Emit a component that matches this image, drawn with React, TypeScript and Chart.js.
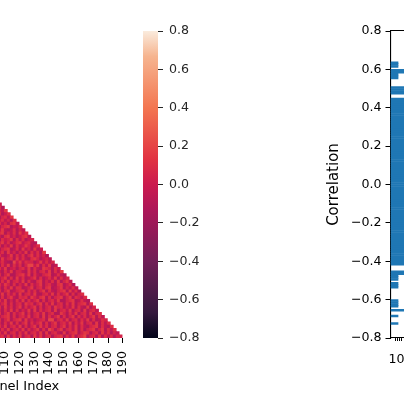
import React, { useEffect, useRef } from "react";
import { Chart, registerables } from "chart.js";

Chart.register(...registerables);

const FONT = "'DejaVu Sans'";
const AXIS_FONT_SIZE = 12.6;

// Heatmap: one string per 2-channel row band, one digit per 2-channel column band.
// Each digit is a correlation level: 0 = -0.2, 4 = 0.0, 9 = +0.25.
const heatRows = [
  "4",
  "62",
  "537",
  "6246",
  "25637",
  "463526",
  "6352673",
  "25672436",
  "473236253",
  "6725362746",
  "42673524673",
  "264572636245",
  "5736246735632",
  "62537263475246",
  "256723627352734",
  "4627352537263627",
  "63247263625736352",
  "273562736326752453",
  "4632184736552473635",
  "26372636258847263723",
  "637245256372632765264",
  "4263725532736256372637",
  "62572256737263256723632",
  "357262736235726246372635",
  "2637256372632672536272573",
  "63752625372635725632672462",
  "526372662357256267235725363",
  "6257235672636257263256727362",
  "37263627256372256372635726256",
  "262573265627536726256725726536",
  "6372526372635726256372256723632",
  "35726256275625726372562637256726",
  "627362572635726256275625372632725",
  "5263726253727263562725637256272563",
  "62572635726256372562275263725627256",
  "356726256372562726357262572636257263",
  "6257256727352456288256372562637262365",
  "52637262572635726257256372637256272636",
  "637256372625727362562572637263256726326",
  "2637256372635726286257256372625672572636",
  "63725626372563727256327256725762562736253",
  "562726372562737256256726372568256272636255",
];
const rowStart = 107;
const rowStep = 2;
const colStart = 106.5;
const colStep = 2;
const heatTicks = [50, 60, 70, 80, 90, 100, 110, 120, 130, 140, 150, 160, 170, 180, 190];

// Colour bar
const barTicks = [-0.8, -0.6, -0.4, -0.2, 0, 0.2, 0.4, 0.6, 0.8];
const rocketPositions = [0, 0.083, 0.25, 0.417, 0.5, 0.583, 0.75, 0.917, 1];
const rocketColors = ["#03051a", "#35193e", "#701f57", "#ad1759", "#cb1b4f", "#e13342", "#f37651", "#f6b48f", "#faebdd"];

// Correlation histogram (bins that hold something, clipped by the page's right edge)
const binValues = [
  0.635, 0.625, 0.615, 0.595, 0.585, 0.575, 0.565, 0.555, 0.505, 0.495, 0.485, 0.475,
  0.445, 0.435, 0.425, 0.415, 0.405, 0.395, 0.385, 0.375, 0.365, 0.355, 0.345, 0.335, 0.325, 0.315, 0.305,
  0.295, 0.285, 0.275, 0.265, 0.255, 0.245, 0.235, 0.225, 0.215, 0.205, 0.195, 0.185, 0.175, 0.165, 0.155,
  0.145, 0.135, 0.125, 0.115, 0.105, 0.095, 0.085, 0.075, 0.065, 0.055, 0.045, 0.035, 0.025, 0.015, 0.005,
  -0.005, -0.015, -0.025, -0.035, -0.045, -0.055, -0.065, -0.075, -0.085, -0.095, -0.105, -0.115, -0.125,
  -0.135, -0.145, -0.155, -0.165, -0.175, -0.185, -0.195, -0.205, -0.215, -0.225, -0.235, -0.245, -0.255,
  -0.265, -0.275, -0.285, -0.295, -0.305, -0.315, -0.325, -0.335, -0.345, -0.355, -0.365, -0.375, -0.385,
  -0.395, -0.405, -0.415, -0.455, -0.465, -0.475, -0.485, -0.495, -0.515, -0.525, -0.535,
  -0.605, -0.615, -0.625, -0.635, -0.655, -0.685, -0.725,
];
const binHeights = [
  0.84, 0.84, 0.84, 2, 2, 0.84, 0.84, 0.84, 2, 2, 2, 2,
  3, 3, 4, 4, 5, 6, 8, 9, 11, 13, 15, 18, 21, 24, 28,
  33, 38, 44, 50, 57, 64, 72, 80, 90, 100, 110, 120, 130, 142, 154,
  165, 176, 186, 196, 205, 214, 222, 229, 236, 241, 246, 249, 252, 254, 255,
  254, 252, 249, 245, 240, 234, 227, 220, 212, 203, 193, 183, 172, 161,
  150, 139, 128, 117, 106, 96, 86, 77, 68, 60, 53, 46, 40,
  34, 29, 25, 21, 18, 15, 12, 10, 8, 7, 6, 5,
  4, 3, 3, 2, 2, 0.84, 0.84, 0.84, 0.84, 0.84, 0.84,
  0.84, 0.84, 0.84, 0.84, 2, 0.84, 0.84,
];
const corrTicks = [-0.8, -0.6, -0.4, -0.2, 0, 0.2, 0.4, 0.6, 0.8];
const heightTicks = [0.7, 0.8, 0.9, 1, 2, 3, 4, 5, 6, 7, 8, 9, 10];

function hexToRgb(h: string) {
  return [1, 3, 5].map((i) => parseInt(h.slice(i, i + 2), 16));
}

function rocket(value: number) {
  const t = Math.max(0, Math.min(1, (value + 0.8) / 1.6));
  let i = 0;
  while (i < rocketPositions.length - 2 && t > rocketPositions[i + 1]) i++;
  const f = (t - rocketPositions[i]) / (rocketPositions[i + 1] - rocketPositions[i]);
  const a = hexToRgb(rocketColors[i]);
  const b = hexToRgb(rocketColors[i + 1]);
  const c = a.map((v, k) => Math.round(v + (b[k] - v) * f));
  return `rgb(${c[0]},${c[1]},${c[2]})`;
}

const signed = (v: number) => {
  const s = Math.abs(v).toFixed(1);
  return v < -1e-9 ? "\u2212" + s : s;
};

function useChart(build: (c: HTMLCanvasElement) => Chart) {
  const ref = useRef<HTMLCanvasElement | null>(null);
  useEffect(() => {
    const chart = build(ref.current as HTMLCanvasElement);
    return () => chart.destroy();
  }, []);
  return ref;
}

function buildHeatmap(canvas: HTMLCanvasElement) {
  const points: any[] = [];
  const colors: string[] = [];
  heatRows.forEach((row, i) => {
    const r = rowStart + i * rowStep;
    [...row].forEach((d, j) => {
      points.push({ x: colStart + j * colStep, y: [r, r + rowStep] });
      colors.push(rocket(-0.2 + Number(d) * 0.05));
    });
  });
  return new Chart(canvas, {
    type: "bar",
    data: {
      datasets: [
        { data: points, backgroundColor: colors, barThickness: 3, borderWidth: 0, inflateAmount: 0.4 } as any,
      ],
    },
    options: {
      responsive: false,
      animation: false,
      events: [],
      layout: { padding: { left: 11.5, right: 11.5, top: 31, bottom: 10 } },
      plugins: { legend: { display: false }, tooltip: { enabled: false } },
      scales: {
        x: {
          type: "linear",
          min: 39.6,
          max: 190.5,
          offset: false,
          afterBuildTicks: (s: any) => {
            s.ticks = heatTicks.map((value) => ({ value }));
          },
          afterFit: (s: any) => {
            s.height = 56;
            s.paddingLeft = 0;
            s.paddingRight = 0;
          },
          border: { display: false },
          grid: { drawOnChartArea: false, tickLength: 5, tickColor: "#000", tickWidth: 1, offset: false },
          ticks: {
            autoSkip: false,
            minRotation: 90,
            maxRotation: 90,
            padding: 8,
            color: "#000",
            font: { family: FONT, size: AXIS_FONT_SIZE },
          },
          title: { display: true, text: "Channel Index", color: "#000", font: { family: FONT, size: 13 }, padding: { top: 3, bottom: 0 } },
        },
        y: { type: "linear", reverse: true, min: 0, max: 191, display: false },
      },
    } as any,
  });
}

function buildColorBar(canvas: HTMLCanvasElement) {
  return new Chart(canvas, {
    type: "bar",
    data: {
      labels: [""],
      datasets: [
        {
          data: [[barTicks[0], barTicks[barTicks.length - 1]]],
          barPercentage: 1,
          categoryPercentage: 1,
          borderWidth: 0,
          backgroundColor: (ctx: any) => {
            const { chart } = ctx;
            const y = chart.scales.y;
            if (!y || !chart.chartArea) return rocketColors[4];
            const g = chart.ctx.createLinearGradient(0, y.getPixelForValue(-0.8), 0, y.getPixelForValue(0.8));
            rocketPositions.forEach((p, i) => g.addColorStop(p, rocketColors[i]));
            return g;
          },
        } as any,
      ],
    },
    options: {
      responsive: false,
      animation: false,
      events: [],
      layout: { padding: { left: 3, right: 0, top: 31, bottom: 66 } },
      plugins: { legend: { display: false }, tooltip: { enabled: false } },
      scales: {
        x: { display: false },
        y: {
          position: "right",
          min: -0.8,
          max: 0.8,
          afterBuildTicks: (s: any) => {
            s.ticks = barTicks.map((value) => ({ value }));
          },
          afterFit: (s: any) => {
            s.width = 60;
          },
          border: { display: false },
          grid: { drawOnChartArea: false, tickLength: 5, tickColor: "#262626", tickWidth: 1 },
          ticks: {
            padding: 6,
            color: "#262626",
            font: { family: FONT, size: AXIS_FONT_SIZE },
            callback: (v: any) => signed(Number(v)),
          },
        },
      },
    } as any,
  });
}

function buildHistogram(canvas: HTMLCanvasElement) {
  return new Chart(canvas, {
    type: "bar",
    data: {
      datasets: [
        {
          data: binValues.map((y, i) => ({ x: binHeights[i], y })),
          backgroundColor: "#1f77b4",
          barThickness: 2.5,
          borderWidth: 0,
          inflateAmount: 0,
        } as any,
      ],
    },
    options: {
      indexAxis: "y",
      responsive: false,
      animation: false,
      events: [],
      layout: { padding: { left: 0, right: 0, top: 31, bottom: 36 } },
      plugins: { legend: { display: false }, tooltip: { enabled: false } },
      scales: {
        x: {
          type: "logarithmic",
          position: "bottom",
          min: 0.514,
          max: 10,
          afterBuildTicks: (s: any) => {
            s.ticks = heightTicks.map((value) => ({ value, major: value === 1 }));
          },
          afterFit: (s: any) => {
            s.height = 30;
          },
          border: { display: true, color: "#000", width: 1.1 },
          grid: { drawOnChartArea: false, tickLength: 3, tickColor: "#000", tickWidth: 1 },
          ticks: {
            autoSkip: false,
            maxRotation: 0,
            minRotation: 0,
            padding: 11,
            color: "#000",
            font: { family: FONT, size: AXIS_FONT_SIZE },
            callback: (v: any) => (Number(v) === 1 ? "10\u2070\u00a0" : ""),
          },
        },
        top: {
          type: "linear",
          position: "top",
          axis: "x",
          afterFit: (s: any) => {
            s.height = 0;
          },
          border: { display: true, color: "#000", width: 1.1 },
          grid: { display: false },
          ticks: { display: false },
        },
        y: {
          type: "linear",
          min: -0.8,
          max: 0.8,
          offset: false,
          afterBuildTicks: (s: any) => {
            s.ticks = corrTicks.map((value) => ({ value }));
          },
          afterFit: (s: any) => {
            s.width = 70.5;
          },
          border: { display: true, color: "#000", width: 1.1 },
          grid: { drawOnChartArea: false, tickLength: 5, tickColor: "#000", tickWidth: 1, offset: false },
          ticks: {
            padding: 4,
            color: "#000",
            font: { family: FONT, size: AXIS_FONT_SIZE },
            callback: (v: any) => signed(Number(v)),
          },
          title: { display: true, text: "Correlation", color: "#000", font: { family: FONT, size: 15 }, padding: { top: 5, bottom: 0 } },
        },
      },
    } as any,
  });
}

export default function App() {
  const heat = useChart(buildHeatmap);
  const bar = useChart(buildColorBar);
  const hist = useChart(buildHistogram);
  const abs = (left: number): React.CSSProperties => ({ position: "absolute", left, top: 0 });
  return (
    <div style={{ position: "fixed", left: 0, top: 0, width: 404, height: 404, overflow: "hidden", background: "#fff" }}>
      <canvas ref={heat} width={245} height={404} style={abs(-110)} />
      <canvas ref={bar} width={78} height={404} style={abs(140)} />
      <canvas ref={hist} width={129} height={404} style={abs(320)} />
    </div>
  );
}
